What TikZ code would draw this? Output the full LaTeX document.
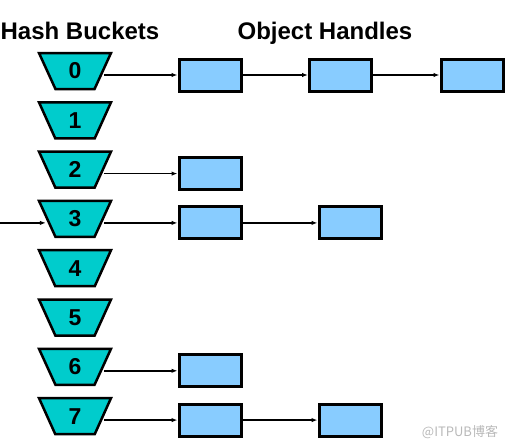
\documentclass[tikz,border=0pt]{standalone}
\usepackage{fontspec}
\setmainfont{Liberation Sans}
\newfontfamily\cjkfont{Noto Sans CJK SC}
\usetikzlibrary{arrows.meta,shapes.geometric}

\definecolor{bucketcyan}{RGB}{0,204,204}
\definecolor{handleblue}{RGB}{136,204,255}
\definecolor{markgray}{RGB}{185,185,185}

\begin{document}
\begin{tikzpicture}[x=1pt, y=-1pt,
    bucket/.style={draw, line width=2.5pt, fill=bucketcyan, shape=trapezium,
        trapezium angle=65, shape border rotate=180, trapezium stretches body,
        minimum width=72pt, minimum height=36pt, inner xsep=0pt, inner ysep=9.5pt,
        font=\fontsize{23}{23}\selectfont\bfseries},
    handle/.style={draw, line width=3pt, fill=handleblue,
        minimum width=62pt, minimum height=32pt, inner sep=0pt},
    link/.style={-{Latex[length=6pt,width=4.5pt]}, line width=1.4pt},
    title/.style={font=\fontsize{24}{24}\selectfont\bfseries}]
    \useasboundingbox (0, 0) rectangle (509, 447);

    % titles
    \node[title] (tb) at (80, 31) {Hash Buckets};
    \node[title] (th) at (325, 33) {Object Handles};

    % buckets
    \foreach \i in {0,...,7}
        \node[bucket] (b\i) at (75, {71+49.3*\i}) {\i};

    % object handles
    \node[handle] (h0a) at (210, 75) {};
    \node[handle] (h0b) at (340.5, 75) {};
    \node[handle] (h0c) at (472, 75) {};
    \node[handle] (h2a) at (210, 173.6) {};
    \node[handle] (h3a) at (210, 222.9) {};
    \node[handle] (h3b) at (350, 222.9) {};
    \node[handle] (h6a) at (210, 370.8) {};
    \node[handle] (h7a) at (210, 420.1) {};
    \node[handle] (h7b) at (350, 420.1) {};

    % chains
    \draw[link] (b0.east |- h0a.west) -- (h0a.west);
    \draw[link] (h0a) -- (h0b);
    \draw[link] (h0b) -- (h0c);
    \draw[link] (b2.east |- h2a.west) -- (h2a.west);
    \draw[link] (b3.east |- h3a.west) -- (h3a.west);
    \draw[link] (h3a) -- (h3b);
    \draw[link] (b6.east |- h6a.west) -- (h6a.west);
    \draw[link] (b7.east |- h7a.west) -- (h7a.west);
    \draw[link] (h7a) -- (h7b);

    % lookup into bucket 3
    \coordinate (in3) at (0, 222.9);
    \draw[link] (in3) -- (in3 -| b3.west);

    \node[text=markgray, font=\cjkfont\fontsize{13}{13}\selectfont] (wm) at (460, 432) {@ITPUB博客};
\end{tikzpicture}
\end{document}
